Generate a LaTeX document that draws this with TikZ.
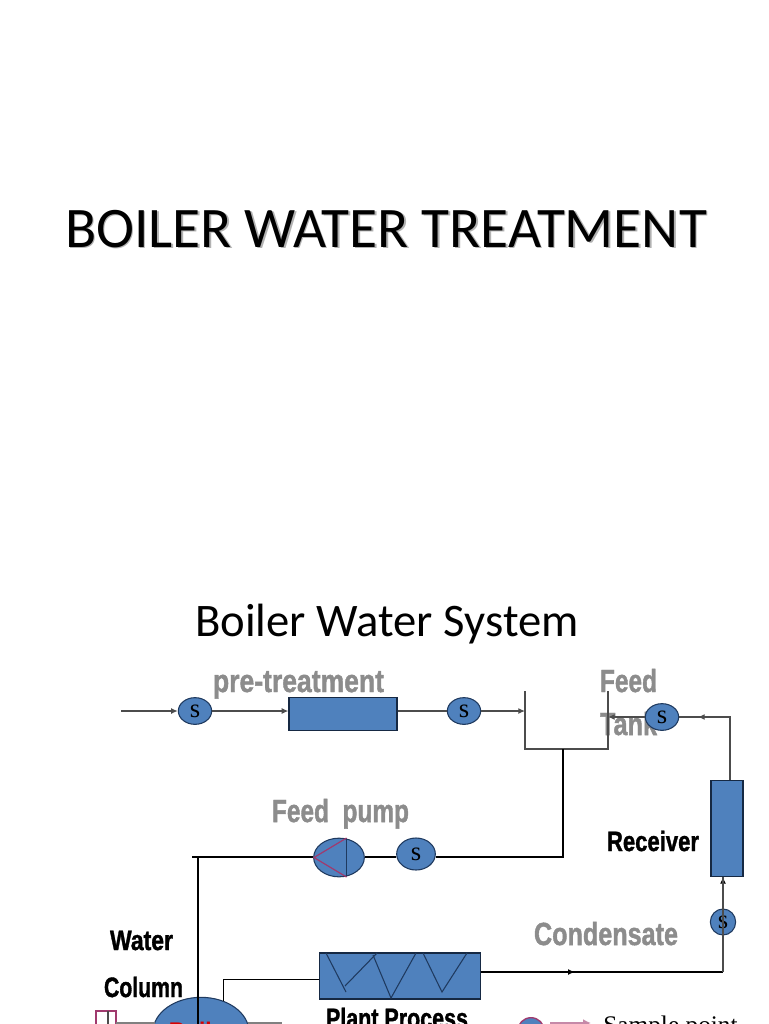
\documentclass[tikz,border=0pt]{standalone}
\usepackage{fontspec}
\setmainfont{Carlito}
\newfontfamily\heavy[FakeBold=1.5]{Liberation Sans}
\newfontfamily\plainbold{Liberation Sans}
\newfontfamily\serifF{Liberation Serif}
\definecolor{fillblue}{HTML}{4F81BD}
\definecolor{edgeblue}{HTML}{1F3A5F}
\definecolor{greylabel}{HTML}{8C8C8C}
\definecolor{plum}{HTML}{A03A6E}
\newcommand{\hv}[2]{\resizebox{\dimexpr #1pt*3/4\relax}{\height}{\heavy\bfseries #2}}
\usetikzlibrary{arrows.meta,shapes.geometric}
\tikzset{
  every picture/.style={x=0.75pt,y=-0.75pt},
  flow/.style={draw=black!70,line width=0.95pt},
  flowk/.style={draw=black,line width=0.9pt},
  tip/.style={-{Latex[length=5pt,width=4.5pt]}},
  bluebox/.style={draw=edgeblue!70!black,line width=0.9pt,fill=fillblue,rectangle,inner sep=0pt},
  sens/.style={draw=edgeblue,line width=0.8pt,fill=fillblue,ellipse,inner sep=0pt,minimum width=25pt,minimum height=20pt,font=\serifF\fontsize{20}{20}\selectfont},
  grey/.style={text=greylabel,font=\heavy\bfseries\fontsize{24}{26}\selectfont,inner sep=0pt,anchor=base},
  blk/.style={text=black,font=\heavy\bfseries\fontsize{21}{23}\selectfont,inner sep=0pt,anchor=base},
  inner/.style={draw=edgeblue,line width=0.8pt},
  pinkl/.style={draw=plum,line width=0.9pt},
}
\begin{document}
\begin{tikzpicture}
\useasboundingbox (0,0) rectangle (768,1024);
\clip (0,0) rectangle (768,1024);
% Titles
\node[text=black!30,font=\fontsize{43}{46}\selectfont,inner sep=0pt] at (387.5,230.5) {BOILER WATER TREATMENT};
\node (title) [font=\fontsize{43}{46}\selectfont,inner sep=0pt] at (386,229) {BOILER WATER TREATMENT};
\node (sub) [font=\fontsize{35}{38}\selectfont,inner sep=0pt] at (387,624) {Boiler Water System};
% Labels that lie under the shapes
\node (lfeed) [grey] at (628.5,692) {\hv{57}{Feed}};
\node (ltank) [grey] at (628.5,735) {\hv{57}{Tank}};
% coordinates
\coordinate (in) at (121,711);
\node (s1) [sens] at (195,711) {s};
\node (pre) [bluebox,minimum width=81pt,minimum height=24.5pt] at (343,714) {};
\node (s2) [sens] at (464,711) {s};
\coordinate (tl) at (525,691);
\coordinate (tbl) at (525,749);
\coordinate (tbr) at (608,749);
\coordinate (tr) at (608,691);
\coordinate (tin) at (525,711);
\coordinate (tout) at (608,717);
\coordinate (tdrop) at (563,749);
\coordinate (pcor) at (563,857);
\node (s3) [sens] at (662,717) {s};
\node (recv) [bluebox,minimum width=24pt,minimum height=72pt] at (727,828.5) {};
\coordinate (rtop) at (730,717);
\node (s4) [sens,minimum width=19pt,minimum height=19.5pt] at (723,922) {s};
\node (s5) [sens,minimum width=29pt,minimum height=24pt] at (416,854) {s};
\node (pump) [draw=edgeblue,line width=0.8pt,fill=fillblue,ellipse,inner sep=0pt,minimum width=38pt,minimum height=29pt] at (339,857.5) {};
\coordinate (lstub) at (192,857);
\coordinate (ljoin) at (198,857);
% Top line
\draw[flow,tip] (in) -- (s1);
\draw[flow,tip] (s1) -- (pre.west |- s1);
\draw[flow] (pre.east |- s2) -- (s2);
\draw[flow,tip] (s2) -- (tin);
\draw[flow] (tl) -- (tbl) -- (tbr) -- (tr);
\draw[flowk] (tdrop) -- (pcor) -- (s5.east |- pcor);
\draw[flowk] (s5.west |- pcor) -- (pump.east |- pcor);
\draw[flowk] (pump.west |- lstub) -- (lstub);
\draw[flow,tip] (s3) -- (tout);
\draw[flow] (recv.north -| rtop) -- (rtop) -- (s3);
\draw[flow,{Latex[length=5pt,width=4.5pt]}-] (698,717) -- (704,717);
\draw[flowk,tip] (s4) -- (723,877);
% pump inner
\draw[inner] (346.5,838) -- (346.5,877);
\draw[pinkl] (346.5,838) -- (314,857.5) -- (346.5,877);
% Boiler
\node (boiler) [draw=edgeblue,line width=0.8pt,fill=fillblue,ellipse,inner sep=0pt,minimum width=72pt,minimum height=52pt] at (201,1032) {};
\node (lboiler) [text=red!85!black,font=\plainbold\bfseries\fontsize{17}{19}\selectfont,inner sep=0pt,anchor=base] at (201,1038) {Boiler};
\draw[flowk] (ljoin) -- (198,1030);
% Plant process
\node (proc) [bluebox,minimum width=120.5pt,minimum height=34.5pt] at (400,976) {};
\draw[flowk] (223.5,1001) -- (223.5,979.5) -- (proc.west |- 0,979.5);
\draw[inner] (326,953) -- (346,992);
\draw[inner] (345,986) -- (377,953);
\draw[inner] (373,955) -- (391,998) -- (416,953);
\draw[inner] (423,953) -- (442,992) -- (467,953);
% Condensate
\coordinate (cond) at (723,972);
\draw[flowk] (proc.east |- cond) -- (cond);
\draw[flow] (cond) -- (s4.south);
\draw[flow] (723,877) -- (723,936);
\node (mid) [inner sep=0pt,minimum size=0pt] at (575,972) {};
\draw[flowk,tip] (570,972) -- (mid);
% Left of boiler
\draw[pinkl,fill=white] (96,1011) rectangle (116,1032);
\draw[draw=black!70,line width=0.8pt] (108,1011) -- (108,1032);
\draw[draw=black!50,line width=0.8pt] (116,1023) -- (155,1023);
\draw[draw=black!50,line width=0.8pt] (248,1023) -- (282,1023);
% Legend
\node (leg) [draw=plum,line width=1pt,fill=fillblue,circle,inner sep=0pt,minimum size=20pt] at (531,1031) {};
\coordinate (legendtip) at (591,1023);
\draw[draw=plum!60,line width=1.5pt,-{Latex[length=6pt,width=6pt]}] (550,1023) -- (legendtip);
% Labels
\node (lpre) [grey] at (298.5,692) {\hv{171}{pre-treatment}};
\node (lpump) [grey] at (340.5,822) {\hv{137}{Feed\ \ pump}};
\node (lrecv) [blk] at (653,851) {\hv{92}{Receiver}};
\node (lwater) [blk] at (141.5,950) {\hv{63}{Water}};
\node (lcol) [blk] at (143.5,997) {\hv{79}{Column}};
\node (lcond) [grey] at (606,945) {\hv{144}{Condensate}};
\node (lplant) [blk] at (397,1028) {\hv{142}{Plant Process}};
\node (lsamp) [font=\serifF\fontsize{19}{20}\selectfont,inner sep=0pt,anchor=base west] at (603,1033) {Sample point};
\end{tikzpicture}
\end{document}
